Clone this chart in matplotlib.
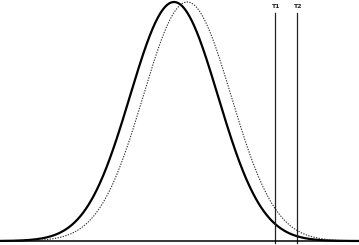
import numpy as np
import matplotlib
matplotlib.use("Agg")
import matplotlib.pyplot as plt

# Distribution parameters (in units of the standard deviation)
means = [0.0, 0.30]
sds = [1.0, 1.0]
styles = ["solid", "dotted"]
thresholds = [2.30, 2.80]
threshold_labels = ["T1", "T2"]

fig = plt.figure(figsize=(3.59, 2.45), dpi=100)
ax = fig.add_axes([0, 0, 1, 1])

x = np.linspace(-4.0, 4.3, 800)
for m, s, st in zip(means, sds, styles):
    y = np.exp(-0.5 * ((x - m) / s) ** 2)
    if st == "solid":
        ax.plot(x, y, color="black", lw=1.6, solid_capstyle="round")
    else:
        ax.plot(x, y, color="#333333", lw=0.8, linestyle=(0, (1.2, 1.2)))

for t, lab in zip(thresholds, threshold_labels):
    ax.plot([t, t], [-0.01, 0.955], color="#222222", lw=0.9)
    ax.text(t, 0.983, lab, ha="center", va="center", fontsize=4.5,
            fontweight="bold", color="#222222")

ax.axhline(0, color="black", lw=1.1)

ax.set_xlim(-3.955, 4.205)
ax.set_ylim(-0.0167, 1.0084)
ax.axis("off")

fig.savefig("out.png", dpi=100)
